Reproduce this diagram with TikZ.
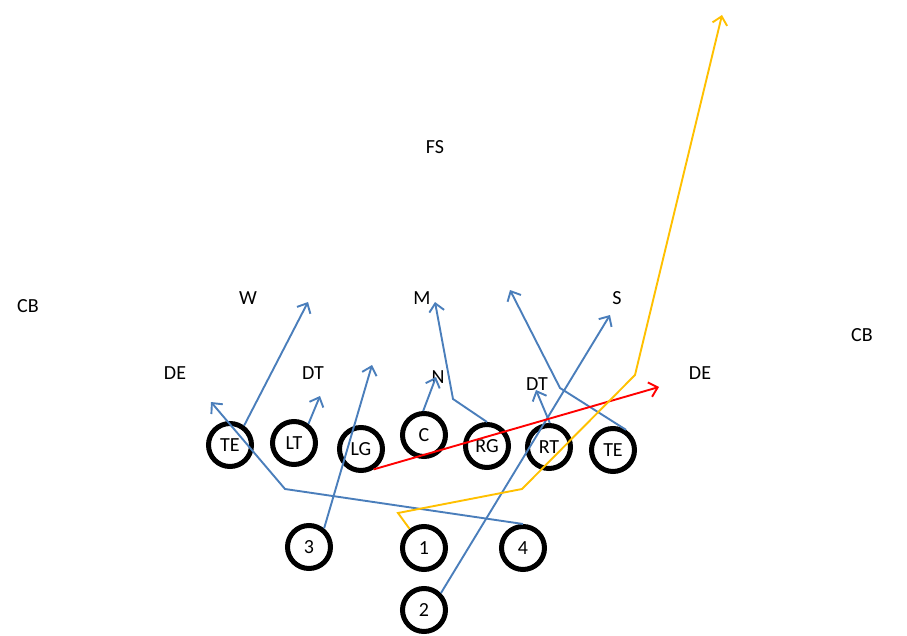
\documentclass[tikz,border=0pt]{standalone}
\usepackage{fontspec}
\setmainfont{Carlito}
\usetikzlibrary{arrows.meta}
\definecolor{routeblue}{HTML}{4A7EBB}
\definecolor{routered}{HTML}{FF0000}
\definecolor{routegold}{HTML}{FFC000}
\tikzset{
  player/.style={circle,draw,line width=5pt,minimum size=43pt,inner sep=0pt},
  defender/.style={inner sep=0pt},
  route/.style={line width=1.9pt,-{Straight Barb[length=8pt,width=15pt]}},
}
\begin{document}
\begin{tikzpicture}[x=1pt,y=-1pt,font=\fontsize{20}{24}\selectfont]
  \useasboundingbox (0,0) rectangle (907,636);
  % defense
  \path node[defender] (CBL) at (28,306) {CB} node[defender] (CBR) at (862,335) {CB}
     node[defender] (DEL) at (175,373) {DE} node[defender] (DER) at (700,373) {DE}
     node[defender] (W) at (248,298) {W} node[defender] (DTL) at (313,373) {DT}
     node[defender] (M) at (422,298) {M} node[defender] (N) at (438,377) {N}
     node[defender] (DTR) at (537,384) {DT} node[defender] (S) at (617,298) {S}
     node[defender] (FS) at (435,147) {FS};
  % offense
  \path node[player] (TEL) at (230,445) {TE} node[player] (LT) at (294,443) {LT}
     node[player] (LG) at (361,449) {LG} node[player] (C) at (424,435) {C}
     node[player] (RG) at (487,446) {RG} node[player] (RT) at (549,447) {RT}
     node[player] (TER) at (613,450) {TE}
     node[player] (B3) at (309,547) {3} node[player] (B1) at (424,548) {1}
     node[player] (B4) at (523,548) {4} node[player] (B2) at (424,610) {2};
  % routes
  \path (308,302) coordinate (endTEL) (211,402) coordinate (endB4) (320,396) coordinate (endLT)
     (372,365) coordinate (endB3) (436,377) coordinate (endC) (435,302) coordinate (endRG)
     (536,390) coordinate (endRT) (510,290) coordinate (endTER) (610,315) coordinate (endB2)
     (659,387) coordinate (endLG) (722,15) coordinate (endB1);
  \draw[route,routeblue] (TEL.54) -- (endTEL);
  \draw[route,routeblue] (B4.north) -- (285,489) -- (endB4);
  \draw[route,routeblue] (LT.53) -- (endLT);
  \draw[route,routeblue] (B3.51) -- (endB3);
  \draw[route,routeblue] (C.92) -- (endC);
  \draw[route,routeblue] (RG.north) -- (453,399) -- (endRG);
  \draw[route,routeblue] (RT.88) -- (endRT);
  \draw[route,routeblue] (TER.57) -- (560,388) -- (endTER);
  \draw[route,routeblue] (B2.45) -- (endB2);
  \draw[route,routered] (LG.-58) -- (endLG);
  \draw[route,routegold] (B1.127) -- (398,513) -- (522,489) -- (635,375) -- (endB1);
\end{tikzpicture}
\end{document}
